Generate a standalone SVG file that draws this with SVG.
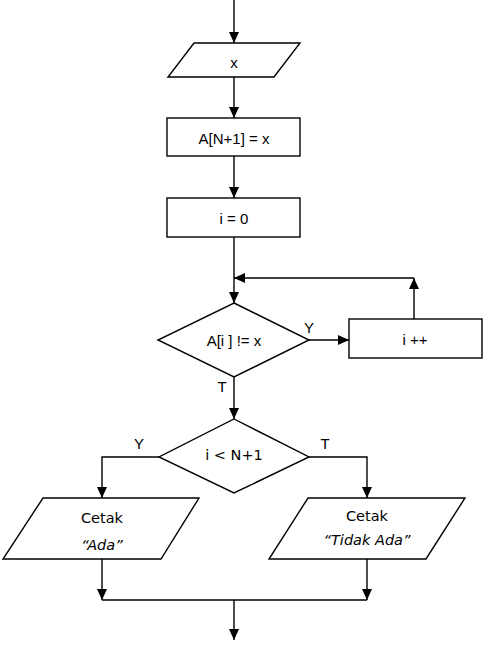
<svg xmlns="http://www.w3.org/2000/svg" width="495" height="655" viewBox="0 0 495 655">
<defs>
<marker id="ah" markerWidth="12" markerHeight="10" refX="11" refY="5" orient="auto" markerUnits="userSpaceOnUse">
<path d="M0,0 L11,5 L0,10 Z" fill="#000"/>
</marker>
<style>
.s{fill:#fff;stroke:#000;stroke-width:1.4}
.c{fill:none;stroke:#000;stroke-width:1.4}
.t{font-family:"Liberation Sans",Arial,sans-serif;font-size:15px;fill:#000;text-anchor:middle;dominant-baseline:central}
.d{font-family:"DejaVu Sans","Liberation Sans",sans-serif;font-size:14.5px;fill:#000;text-anchor:middle;dominant-baseline:central}
.i{font-style:italic}
</style>
</defs>
<rect width="495" height="655" fill="#fff"/>
<g id="connectors">
<path class="c" d="M234,0 V43" marker-end="url(#ah)"/>
<path class="c" d="M234,77 V118" marker-end="url(#ah)"/>
<path class="c" d="M234,156 V198" marker-end="url(#ah)"/>
<path class="c" d="M234,237 V303" marker-end="url(#ah)"/>
<path class="c" d="M414,319 V278" marker-end="url(#ah)"/>
<path class="c" d="M414,278 H234" marker-end="url(#ah)"/>
<path class="c" d="M309,340 H349" marker-end="url(#ah)"/>
<path class="c" d="M234,377 V419" marker-end="url(#ah)"/>
<path class="c" d="M159,457 H102 V498" marker-end="url(#ah)"/>
<path class="c" d="M309,457 H367 V498" marker-end="url(#ah)"/>
<path class="c" d="M102,559 V600" marker-end="url(#ah)"/>
<path class="c" d="M367,559 V600" marker-end="url(#ah)"/>
<path class="c" d="M102,600 H367"/>
<path class="c" d="M234,600 V640" marker-end="url(#ah)"/>
<text class="t" x="309" y="327" font-size="13">Y</text>
<text class="t" x="222" y="386" font-size="13">T</text>
<text class="t" x="139" y="443" font-size="13">Y</text>
<text class="t" x="325" y="443" font-size="13">T</text>
</g>
<g id="input-x">
<path class="s" d="M194,43 H300 L274,77 H168 Z"/>
<text class="t" x="234" y="62">x</text>
</g>
<g id="assign-a">
<rect class="s" x="167" y="118" width="133" height="38"/>
<text class="t" x="234" y="138">A[N+1] = x</text>
</g>
<g id="assign-i">
<rect class="s" x="167" y="198" width="133" height="39"/>
<text class="t" x="234" y="218">i = 0</text>
</g>
<g id="decision-ai">
<path class="s" d="M234,303 L309,340 L234,377 L158,340 Z"/>
<text class="t" x="234" y="340">A[i ] != x</text>
</g>
<g id="increment">
<rect class="s" x="349" y="319" width="133" height="39"/>
<text class="t" x="415" y="339">i ++</text>
</g>
<g id="decision-n">
<path class="s" d="M234,419 L309,457 L234,493 L159,457 Z"/>
<text class="d" x="234" y="455">i &lt; N+1</text>
</g>
<g id="print-ada">
<path class="s" d="M43,498 H199 L161,559 H3 Z"/>
<text class="d" x="102" y="518">Cetak</text>
<text class="d i" x="102" y="545">“Ada”</text>
</g>
<g id="print-tidak">
<path class="s" d="M308,498 H465 L426,559 H269 Z"/>
<text class="d" x="367" y="516">Cetak</text>
<text class="d i" x="367" y="540">“Tidak Ada”</text>
</g>
</svg>
